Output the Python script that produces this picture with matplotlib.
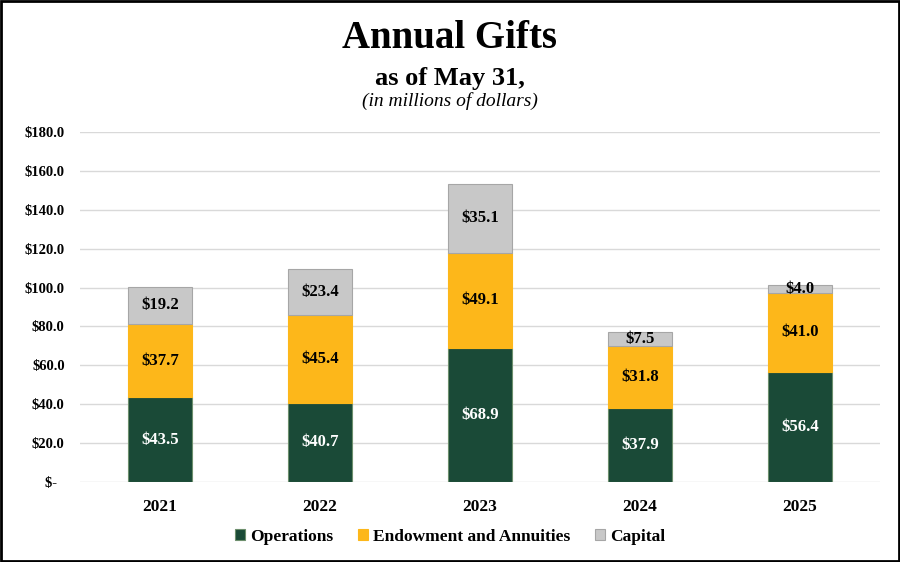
import matplotlib
matplotlib.use("Agg")
import matplotlib.pyplot as plt
from matplotlib.patches import Rectangle
import numpy as np

years = ["2021", "2022", "2023", "2024", "2025"]
operations = [43.5, 40.7, 68.9, 37.9, 56.4]
endowment = [37.7, 45.4, 49.1, 31.8, 41.0]
capital = [19.2, 23.4, 35.1, 7.5, 4.0]
yticks = [0, 20, 40, 60, 80, 100, 120, 140, 160, 180]
ytick_labels = ["$-  ", "$20.0", "$40.0", "$60.0", "$80.0", "$100.0", "$120.0", "$140.0", "$160.0", "$180.0"]

plt.rcParams['font.family'] = ['Liberation Serif', 'DejaVu Serif']

c_green = "#1a4a37"
c_yellow = "#fdb71a"
c_gray = "#c8c8c8"

fig = plt.figure(figsize=(9, 5.62), dpi=100)
ax = fig.add_axes([80/900, 1-482/562, 800/900, 350/562])

x = np.arange(len(years))
w = 0.4
ops = np.array(operations)
end = np.array(endowment)
cap = np.array(capital)

ax.bar(x, ops, w, color=c_green, edgecolor="#6d8f6d", linewidth=0.8, label="Operations", zorder=3)
ax.bar(x, end, w, bottom=ops, color=c_yellow, edgecolor=c_yellow, linewidth=0.8, label="Endowment and Annuities", zorder=3)
ax.bar(x, cap, w, bottom=ops+end, color=c_gray, edgecolor="#a6a6a6", linewidth=0.8, label="Capital", zorder=3)

for i in range(len(years)):
    ax.text(x[i], ops[i]/2, f"${ops[i]:.1f}", ha="center", va="center", color="white",
            fontsize=12, fontweight="bold", zorder=4)
    ax.text(x[i], ops[i] + end[i]/2, f"${end[i]:.1f}", ha="center", va="center", color="black",
            fontsize=12, fontweight="bold", zorder=4)
    ax.text(x[i], ops[i] + end[i] + cap[i]/2, f"${cap[i]:.1f}", ha="center", va="center", color="black",
            fontsize=12, fontweight="bold", zorder=4)

ax.set_xlim(-0.5, len(years)-0.5)
ax.set_ylim(0, 180)
ax.set_yticks(yticks)
ax.set_yticklabels(ytick_labels, fontsize=10.5, fontweight="bold")
ax.set_xticks(x)
ax.set_xticklabels(years, fontsize=12.5, fontweight="bold")
ax.tick_params(axis="both", length=0)
ax.tick_params(axis="y", pad=11)
ax.tick_params(axis="x", pad=12)
ax.grid(axis="y", color="#d9d9d9", linewidth=1, zorder=0)
for s in ax.spines.values():
    s.set_visible(False)

fig.text(0.5, 1-38/562, "Annual Gifts", ha="center", va="center", fontsize=28, fontweight="bold")
fig.text(0.5, 1-79/562, "as of May 31,", ha="center", va="center", fontsize=19, fontweight="bold")
fig.text(0.5, 1-101/562, "(in millions of dollars)", ha="center", va="center", fontsize=14, style="italic")

handles, labels = ax.get_legend_handles_labels()
leg = fig.legend(handles, labels, loc="center", bbox_to_anchor=(0.5, 1-537/562), ncol=3, frameon=False,
                 prop={"weight": "bold", "size": 12.5}, handlelength=0.6, handleheight=0.6,
                 handletextpad=0.3, columnspacing=1.4)

fig.patches.append(Rectangle((0.0015, 0.0025), 0.997, 0.995, transform=fig.transFigure,
                             fill=False, edgecolor="black", linewidth=2))

fig.savefig("out.png", dpi=100)
